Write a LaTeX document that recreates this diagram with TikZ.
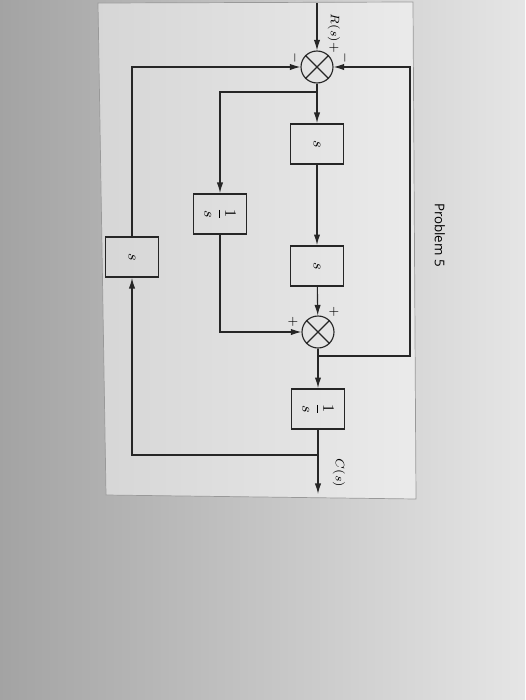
\documentclass[tikz,border=0pt]{standalone}
\usepackage{tikz}
\usetikzlibrary{arrows.meta}
\usepackage{fontspec}
\newfontfamily\probfont{Open Sans}

\begin{document}
\begin{tikzpicture}[x=0.02cm, y=-0.02cm, >={Latex[length=6pt,width=3.6pt]},
    line width=0.65pt, font=\scriptsize, draw=black!85,
    blk/.style={draw, line width=1.1pt, minimum width=1.06cm, minimum height=0.8cm, inner sep=0pt, font=\small},
    sumnode/.style={draw, circle, line width=0.65pt, minimum size=0.64cm, inner sep=0pt},
    lab/.style={rotate=-90, inner sep=0pt}]

    % ---- paper
    \shade[left color=black!36, right color=black!10] (0,0) rectangle (525,700);
    \shade[left color=black!16, right color=black!8, draw=black!40, line width=0.4pt]
      (98,3) -- (413,2) -- (416,499) -- (106,495) -- cycle;
    \useasboundingbox (0,0) rectangle (525,700);

    % ---- title
    \node[lab, font=\probfont\fontsize{7.6}{9}\selectfont] (title) at (440,235) {Problem 5};

    % ---- blocks
    \node[blk] (g1) at (317,144) {\rotatebox{-90}{$s$}};
    \node[blk] (g2) at (317,266) {\rotatebox{-90}{$s$}};
    \node[blk] (ginv) at (220,214) {\rotatebox{-90}{$\displaystyle\frac{1}{s}$}};
    \node[blk] (gfb) at (132,257) {\rotatebox{-90}{$s$}};
    \node[blk] (g4) at (318,409) {\rotatebox{-90}{$\displaystyle\frac{1}{s}$}};

    % ---- summing points
    \foreach \n/\x/\y in {sum1/317/67, sum2/318/332} {
      \node[sumnode] (\n) at (\x,\y) {};
      \draw (\n.north east) -- (\n.south west) (\n.north west) -- (\n.south east);
    }

    % ---- signals
    \coordinate (rin) at (317,3);
    \coordinate (b1) at (317,92);
    \coordinate (b2) at (318,356);
    \coordinate (b3) at (318,455);
    \coordinate (fr) at (410,67);
    \coordinate (cout) at (318,494);

    \draw[->] (rin) -- (sum1);
    \draw[->] (sum1) -- (g1);
    \draw[->] (b1) -| (ginv);
    \draw[->] (g1) -- (g2);
    \draw[->] (g2) -- (sum2);
    \draw[->] (ginv) |- (sum2);
    \draw[->] (sum2) -- (g4);
    \draw[->] (b2) -| (fr) -- (sum1);
    \draw[->] (g4) -- (cout);
    \draw[->] (b3) -| (gfb);
    \draw[->] (gfb) |- (sum1);

    % ---- labels
    \node[lab] (rlab) at (334,28) {$R(s)$};
    \node[lab] (p1) at (334,48) {$+$};
    \node[lab] (m1) at (295,58) {$-$};
    \node[lab] (m2) at (345,58) {$-$};
    \node[lab] (p2) at (334,312) {$+$};
    \node[lab] (p3) at (293,322) {$+$};
    \node[lab] (clab) at (339,473) {$C(s)$};
  \end{tikzpicture}
\end{document}
